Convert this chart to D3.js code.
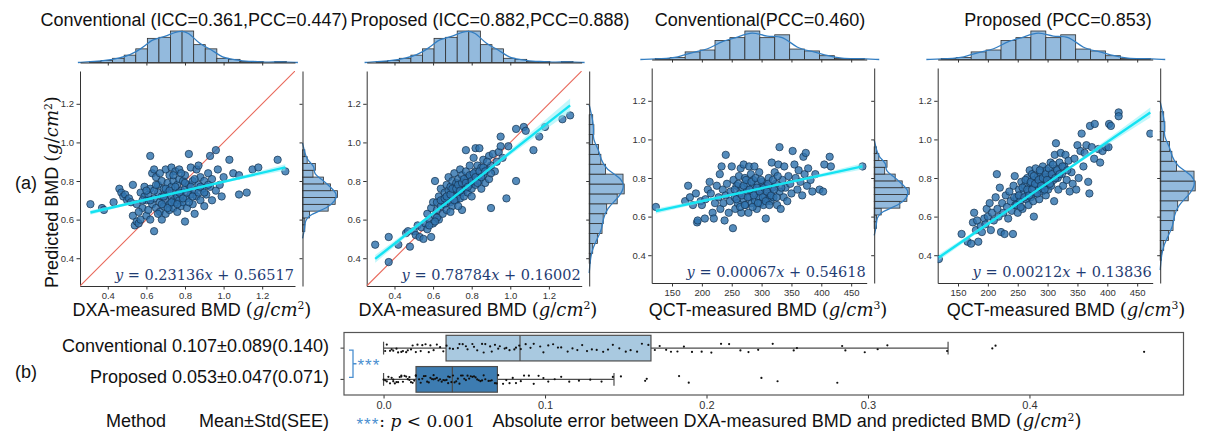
<!DOCTYPE html>
<html>
<head>
<meta charset="utf-8">
<script src="https://cdn.jsdelivr.net/npm/d3@7"></script>
<style>
body { margin: 0; background: #fff; }
svg { display: block; }
</style>
</head>
<body>
<div id="chart"></div>
<script>
// ---- data ----
var titles = ["Conventional (ICC=0.361,PCC=0.447)", "Proposed (ICC=0.882,PCC=0.888)", "Conventional(PCC=0.460)", "Proposed (PCC=0.853)"];
var slopes = [0.23136, 0.78784, 0.00067, 0.00212];
var intercepts = [0.56517, 0.16002, 0.54618, 0.13836];
// confidence band half-widths at [min x, middle, max x]
var bandHalf = [[0.012, 0.004, 0.016], [0.02, 0.006, 0.035], [0.014, 0.004, 0.016], [0.016, 0.005, 0.026]];

var yTicks = [0.4, 0.6, 0.8, 1.0, 1.2];
var dxaTicks = [0.4, 0.6, 0.8, 1.0, 1.2];
var qctTicks = [150, 200, 250, 300, 350, 400, 450];
var bmdDomain = [0.256, 1.37];
var qctDomain = [116, 476];

// DXA vs conventional prediction
var dxaConv = [
[0.31,0.68],[0.37,0.66],[0.38,0.65],[0.43,0.69],[0.46,0.76],[0.47,0.74],[0.48,0.72],[0.49,0.73],[0.50,0.70],[0.51,0.71],
[0.52,0.69],[0.53,0.78],[0.53,0.62],[0.54,0.57],[0.55,0.59],[0.55,0.68],[0.56,0.58],[0.57,0.60],[0.57,0.74],[0.58,0.66],
[0.59,0.72],[0.59,0.77],[0.60,0.62],[0.60,0.70],[0.61,0.65],[0.61,0.73],[0.62,0.93],[0.62,0.60],[0.62,0.76],[0.63,0.68],
[0.63,0.84],[0.64,0.86],[0.64,0.54],[0.64,0.71],[0.65,0.82],[0.65,0.66],[0.66,0.74],[0.66,0.78],[0.67,0.69],[0.67,0.64],
[0.68,0.60],[0.68,0.72],[0.68,0.80],[0.69,0.76],[0.69,0.67],[0.70,0.86],[0.70,0.70],[0.70,0.63],[0.71,0.74],[0.71,0.79],
[0.72,0.68],[0.72,0.83],[0.72,0.65],[0.73,0.87],[0.73,0.72],[0.73,0.77],[0.74,0.70],[0.74,0.80],[0.74,0.66],[0.75,0.74],
[0.75,0.85],[0.75,0.69],[0.76,0.78],[0.76,0.72],[0.76,0.64],[0.77,0.81],[0.77,0.70],[0.77,0.86],[0.78,0.75],[0.78,0.67],
[0.78,0.73],[0.79,0.80],[0.79,0.69],[0.80,0.76],[0.80,0.59],[0.80,0.83],[0.81,0.71],[0.81,0.66],[0.82,0.78],[0.82,0.94],
[0.83,0.73],[0.83,0.87],[0.84,0.68],[0.84,0.80],[0.85,0.75],[0.85,0.63],[0.86,0.86],[0.86,0.72],[0.87,0.78],[0.87,0.88],
[0.88,0.70],[0.88,0.82],[0.89,0.76],[0.90,0.67],[0.90,0.80],[0.91,0.73],[0.92,0.84],[0.93,0.93],[0.93,0.77],[0.94,0.70],
[0.94,0.81],[0.96,0.96],[0.96,0.75],[0.97,0.86],[0.98,0.78],[0.99,0.72],[1.00,0.82],[1.03,0.91],[1.05,0.84],[1.08,0.83],
[1.08,0.73],[1.12,0.74],[1.15,0.86],[1.18,0.87],[1.28,0.91],[1.32,0.85],
[0.62,0.70],[0.64,0.75],[0.65,0.78],[0.66,0.63],[0.67,0.84],[0.69,0.72],[0.70,0.76],[0.71,0.66],[0.72,0.75],[0.73,0.69],
[0.74,0.83],[0.75,0.77],[0.76,0.68],[0.77,0.74],[0.78,0.84],[0.79,0.71],[0.80,0.79],[0.81,0.74],[0.82,0.69],[0.83,0.77],
[0.84,0.72],[0.85,0.81],[0.87,0.74],[0.88,0.77],[0.90,0.74],[0.92,0.78],[0.58,0.70],[0.56,0.64],[0.60,0.75],[0.68,0.68]
];

// DXA vs proposed prediction
var dxaProp = [
[0.30,0.47],[0.37,0.51],[0.37,0.38],[0.42,0.47],[0.46,0.53],[0.47,0.54],[0.48,0.46],[0.50,0.54],[0.51,0.52],[0.52,0.57],
[0.53,0.51],[0.54,0.56],[0.55,0.50],[0.56,0.58],[0.57,0.55],[0.57,0.63],[0.58,0.60],[0.59,0.51],[0.59,0.66],[0.60,0.58],
[0.60,0.69],[0.61,0.80],[0.61,0.62],[0.62,0.69],[0.62,0.65],[0.63,0.60],[0.63,0.72],[0.64,0.67],[0.64,0.76],[0.65,0.63],
[0.65,0.70],[0.66,0.74],[0.66,0.68],[0.67,0.78],[0.67,0.65],[0.68,0.75],[0.68,0.71],[0.68,0.82],[0.69,0.69],[0.69,0.77],
[0.70,0.73],[0.70,0.80],[0.70,0.67],[0.71,0.76],[0.71,0.84],[0.72,0.72],[0.72,0.79],[0.72,0.70],[0.73,0.81],[0.73,0.75],
[0.74,0.86],[0.74,0.71],[0.74,0.78],[0.75,0.65],[0.75,0.74],[0.75,0.83],[0.76,0.79],[0.76,0.72],[0.77,0.96],[0.77,0.85],
[0.77,0.76],[0.78,0.81],[0.78,0.74],[0.79,0.88],[0.79,0.78],[0.80,0.83],[0.80,0.76],[0.81,0.92],[0.81,0.80],[0.82,0.97],
[0.82,0.85],[0.82,0.78],[0.83,0.82],[0.83,0.88],[0.84,0.97],[0.84,0.80],[0.85,0.87],[0.85,0.76],[0.86,0.91],[0.86,0.83],
[0.87,0.79],[0.88,0.86],[0.89,0.81],[0.89,0.93],[0.90,0.66],[0.90,0.88],[0.91,0.94],[0.92,0.85],[0.93,0.90],[0.94,0.95],
[0.95,1.03],[0.95,0.98],[0.96,0.92],[0.98,0.71],[0.99,0.98],[1.03,0.80],[1.03,1.07],[1.07,1.08],[1.08,1.06],[1.12,0.96],
[1.15,1.03],[1.18,1.08],[1.27,1.12],[1.31,1.14],
[0.62,0.61],[0.64,0.70],[0.66,0.71],[0.67,0.72],[0.69,0.73],[0.70,0.76],[0.71,0.70],[0.72,0.76],[0.73,0.78],[0.74,0.75],
[0.75,0.79],[0.76,0.81],[0.77,0.79],[0.78,0.77],[0.79,0.83],[0.80,0.80],[0.81,0.84],[0.82,0.82],[0.83,0.79],[0.84,0.85],
[0.85,0.82],[0.86,0.87],[0.87,0.85],[0.88,0.90],[0.90,0.84],[0.58,0.57],[0.61,0.59],[0.69,0.64],[0.73,0.67],[0.80,0.72]
];

// QCT vs conventional prediction
var qctConv = [
[123,0.65],[172,0.68],[177,0.76],[180,0.70],[185,0.66],[190,0.72],[192,0.57],[193,0.58],[198,0.68],[200,0.66],
[205,0.59],[206,0.69],[210,0.74],[213,0.78],[215,0.72],[218,0.62],[220,0.59],[222,0.67],[225,0.76],[228,0.70],
[230,0.82],[231,0.64],[233,0.86],[235,0.74],[236,0.67],[238,0.58],[240,0.92],[240,0.71],[242,0.77],[245,0.62],
[247,0.68],[248,0.73],[250,0.86],[252,0.54],[253,0.79],[255,0.70],[256,0.64],[258,0.76],[260,0.67],[262,0.81],
[263,0.72],[265,0.85],[266,0.62],[268,0.75],[270,0.87],[270,0.69],[272,0.80],[273,0.66],[275,0.73],[276,0.77],
[278,0.62],[279,0.86],[280,0.70],[282,0.82],[283,0.67],[285,0.75],[286,0.79],[288,0.86],[289,0.68],[290,0.72],
[292,0.64],[293,0.77],[295,0.70],[296,0.83],[298,0.67],[300,0.74],[301,0.78],[303,0.66],[305,0.71],[307,0.59],
[308,0.76],[310,0.69],[312,0.80],[314,0.72],[315,0.68],[317,0.88],[318,0.75],[320,0.70],[322,0.83],[324,0.77],
[326,0.66],[328,0.87],[330,0.96],[330,0.73],[332,0.64],[335,0.79],[337,0.70],[338,0.86],[340,0.75],[343,0.68],
[345,0.81],[348,0.77],[350,0.72],[352,0.94],[355,0.87],[357,0.80],[360,0.74],[362,0.84],[365,0.78],[368,0.71],
[370,0.91],[372,0.82],[374,0.93],[376,0.76],[378,0.85],[382,0.79],[385,0.73],[390,0.82],[397,0.74],[403,0.73],
[405,0.87],[414,0.91],[416,0.86],[469,0.86],
[255,0.74],[258,0.69],[261,0.77],[264,0.65],[267,0.71],[270,0.76],[272,0.66],[274,0.79],[277,0.70],[280,0.74],
[283,0.78],[285,0.65],[287,0.71],[290,0.80],[292,0.75],[294,0.67],[297,0.73],[299,0.79],[302,0.70],[304,0.75],
[307,0.68],[309,0.73],[311,0.77],[313,0.66],[316,0.71],[319,0.79],[321,0.74],[325,0.70],[327,0.81],[333,0.75]
];

// QCT vs proposed prediction
var qctProp = [
[118,0.38],[156,0.51],[166,0.47],[172,0.46],[175,0.57],[177,0.62],[180,0.53],[182,0.58],[184,0.47],[188,0.55],
[190,0.52],[194,0.59],[196,0.56],[198,0.64],[200,0.60],[203,0.67],[205,0.53],[207,0.62],[210,0.58],[213,0.70],
[215,0.82],[216,0.64],[218,0.60],[220,0.75],[222,0.52],[224,0.67],[226,0.62],[228,0.51],[230,0.71],[232,0.65],
[234,0.59],[236,0.73],[238,0.68],[240,0.63],[242,0.51],[243,0.76],[245,0.81],[246,0.66],[248,0.70],[250,0.62],
[252,0.74],[254,0.68],[256,0.78],[258,0.64],[260,0.72],[262,0.76],[264,0.69],[266,0.80],[267,0.73],[268,0.66],
[270,0.84],[271,0.77],[272,0.70],[274,0.82],[275,0.75],[276,0.68],[277,0.60],[278,0.79],[280,0.85],[281,0.72],
[282,0.77],[284,0.81],[285,0.74],[286,0.69],[288,0.83],[290,0.78],[291,0.73],[292,0.86],[294,0.76],[295,0.80],
[297,0.71],[298,0.84],[300,0.78],[301,0.74],[303,0.81],[305,0.88],[306,0.76],[308,0.83],[310,0.79],[311,0.68],
[312,0.92],[314,0.98],[315,0.85],[317,0.80],[318,0.74],[320,0.88],[322,0.93],[324,0.82],[326,0.76],[328,0.86],
[330,0.92],[332,0.79],[335,0.89],[337,0.73],[340,0.83],[342,0.77],[345,0.90],[348,0.74],[350,0.97],[352,0.80],
[355,0.94],[357,1.03],[360,0.86],[362,0.93],[365,0.97],[368,0.78],[370,0.72],[371,1.07],[374,0.96],[378,0.90],
[379,1.08],[385,0.95],[388,0.88],[392,0.94],[398,0.96],[402,0.96],[403,1.08],[406,1.07],[419,1.14],[419,1.12],[472,1.03],
[244,0.70],[248,0.66],[252,0.71],[255,0.65],[258,0.75],[261,0.70],[263,0.79],[266,0.74],[269,0.71],[272,0.78],
[274,0.74],[277,0.81],[279,0.77],[283,0.72],[285,0.79],[287,0.84],[289,0.76],[292,0.80],[295,0.74],[297,0.82],
[299,0.79],[302,0.85],[304,0.77],[307,0.82],[309,0.87],[313,0.80],[316,0.84],[320,0.82],[325,0.86],[333,0.84]
];

// marginal histograms (bin start, bin width, counts)
var dxaBinStart = 0.305, dxaBinWidth = 0.06;
var dxaHistCounts = [1, 2, 4, 7, 13, 23, 24, 30, 30, 17, 13, 4, 3, 1, 1, 0, 1];
var qctBinStart = 122, qctBinWidth = 25;
var qctHistCounts = [1, 2, 8, 10, 20, 23, 30, 23, 26, 11, 9, 4, 1, 1];
var convBinStart = 0.538, convBinWidth = 0.0353;
var convHistCounts = [2, 2, 6, 22, 28, 30, 24, 18, 9, 11, 4, 2];
var propBinStart = 0.374, propBinWidth = 0.0513;
var propHistCounts = [1, 3, 7, 11, 12, 15, 24, 30, 29, 14, 10, 8, 3, 4, 3];

// box plot of absolute errors
var methods = ["Conventional", "Proposed"];
var methodStats = ["0.107\u00b10.089(0.140)", "0.053\u00b10.047(0.071)"];
var boxQ1 = [0.0387, 0.0201];
var boxMedian = [0.0845, 0.0426];
var boxQ3 = [0.1656, 0.0705];
var whiskerLow = [0.0, 0.0];
var whiskerHigh = [0.3496, 0.1427];
var errTicks = [0.0, 0.1, 0.2, 0.3, 0.4];
var convErrors = [0.001,0.002,0.004,0.005,0.006,0.008,0.009,0.011,0.012,0.014,0.015,0.017,0.018,0.020,0.021,0.023,0.024,0.026,0.028,0.029,
0.031,0.033,0.035,0.037,0.039,0.041,0.043,0.046,0.047,0.049,0.051,0.052,0.055,0.056,0.058,0.061,0.062,0.063,0.066,0.067,
0.069,0.071,0.072,0.075,0.076,0.078,0.081,0.082,0.084,0.085,0.088,0.091,0.093,0.097,0.099,0.102,0.105,0.108,0.110,0.114,
0.117,0.120,0.123,0.126,0.129,0.132,0.136,0.139,0.142,0.146,0.150,0.153,0.157,0.160,0.164,0.168,0.171,0.175,0.178,0.182,
0.186,0.191,0.197,0.203,0.209,0.214,0.221,0.226,0.232,0.241,0.254,0.256,0.284,0.286,0.298,0.306,0.312,0.349,0.377,0.379,0.471];
var propErrors = [0.000,0.001,0.002,0.003,0.004,0.005,0.006,0.006,0.007,0.008,0.009,0.010,0.011,0.011,0.012,0.013,0.014,0.015,0.016,0.016,
0.017,0.018,0.019,0.020,0.020,0.022,0.023,0.024,0.025,0.026,0.027,0.028,0.029,0.030,0.031,0.031,0.032,0.033,0.034,0.035,
0.036,0.037,0.038,0.039,0.040,0.040,0.041,0.042,0.043,0.044,0.045,0.046,0.047,0.048,0.049,0.050,0.051,0.052,0.053,0.054,
0.055,0.056,0.057,0.058,0.059,0.060,0.061,0.062,0.063,0.065,0.066,0.067,0.069,0.070,0.071,0.074,0.076,0.078,0.080,0.082,
0.085,0.087,0.090,0.093,0.096,0.099,0.102,0.106,0.110,0.115,0.121,0.128,0.135,0.142,0.147,0.162,0.163,0.183,0.189,0.234,0.244,0.281];

// ---- drawing ----
var svgWidth = 1207, svgHeight = 447;
var sans = '"Liberation Sans", Arial, sans-serif';
var serif = '"DejaVu Serif", serif';
var tickColor = "#333";

var svg = d3.select("#chart").append("svg")
    .attr("width", svgWidth)
    .attr("height", svgHeight)
    .style("background", "#fff");

var hists = {
    dxa: {start: dxaBinStart, width: dxaBinWidth, counts: dxaHistCounts},
    qct: {start: qctBinStart, width: qctBinWidth, counts: qctHistCounts},
    conv: {start: convBinStart, width: convBinWidth, counts: convHistCounts},
    prop: {start: propBinStart, width: propBinWidth, counts: propHistCounts}
};

var panels = [
    {left: 80, top: 71, pts: dxaConv, xDomain: bmdDomain, xTicks: dxaTicks, topH: "dxa", rightH: "conv", titleX: 194, labelX: 192, pre: "DXA-measured BMD ", power: "2", identity: true},
    {left: 366.7, top: 71, pts: dxaProp, xDomain: bmdDomain, xTicks: dxaTicks, topH: "dxa", rightH: "prop", titleX: 490, labelX: 478, pre: "DXA-measured BMD ", power: "2", identity: true},
    {left: 651.7, top: 68, pts: qctConv, xDomain: qctDomain, xTicks: qctTicks, topH: "qct", rightH: "conv", titleX: 760, labelX: 768, pre: "QCT-measured BMD ", power: "3", identity: false},
    {left: 937.7, top: 68, pts: qctProp, xDomain: qctDomain, xTicks: qctTicks, topH: "qct", rightH: "prop", titleX: 1058, labelX: 1066, pre: "QCT-measured BMD ", power: "3", identity: false}
];
var plotSize = 215;

function styleAxis(g, size) {
    g.attr("font-family", sans).attr("font-size", size);
    g.select(".domain").attr("stroke", tickColor).attr("stroke-width", 1);
    g.selectAll(".tick line").attr("stroke", tickColor);
    g.selectAll(".tick text").attr("fill", tickColor);
}

// "(g/cm²)" style unit label after a sans-serif prefix
function unitLabel(t, pre, power, size) {
    t.append("tspan").style("font-family", sans).text(pre);
    t.append("tspan").style("font-family", serif).text("(");
    t.append("tspan").style("font-family", serif).style("font-style", "italic").text("g");
    t.append("tspan").style("font-family", serif).text("/");
    t.append("tspan").style("font-family", serif).style("font-style", "italic").text("cm");
    t.append("tspan").style("font-family", serif).attr("font-size", size * 0.6).attr("dy", -size * 0.36).text(power);
    t.append("tspan").style("font-family", serif).attr("dy", size * 0.36).text(")");
}

// stable jitter offset in [-0.5, 0.5] from a point's index
function jitter(j) {
    var s = Math.sin(j * 127.1 + 311.7) * 43758.5453;
    return s - Math.floor(s) - 0.5;
}

panels.forEach(function(p, i) {
    var x = d3.scaleLinear().domain(p.xDomain).range([p.left, p.left + plotSize]);
    var y = d3.scaleLinear().domain(bmdDomain).range([p.top + plotSize, p.top]);
    var g = svg.append("g");

    // title
    g.append("text")
        .attr("x", p.titleX).attr("y", 25.5)
        .attr("text-anchor", "middle")
        .style("font-family", sans).style("font-size", "18px").attr("fill", "#111")
        .text(titles[i]);

    // top marginal histogram
    var th = hists[p.topH];
    var tBase = p.top - 8.5;
    var hy = d3.scaleLinear().domain([0, 30]).range([tBase, 31]);
    g.append("g").selectAll("rect")
        .data(th.counts)
        .enter()
        .append("rect")
        .attr("x", (d, k) => x(th.start + k * th.width))
        .attr("width", (d, k) => x(th.start + (k + 1) * th.width) - x(th.start + k * th.width))
        .attr("y", d => hy(d))
        .attr("height", d => tBase - hy(d))
        .attr("fill", "#93badd")
        .attr("stroke", "#2e2e2e")
        .attr("stroke-width", 0.8);
    var tKde = [[th.start - th.width, 0]].concat(th.counts.map((d, k) => [th.start + (k + 0.5) * th.width, d]), [[th.start + (th.counts.length + 1) * th.width, 0]]);
    g.append("path")
        .datum(tKde)
        .attr("fill", "none").attr("stroke", "#337ec2").attr("stroke-width", 1.3)
        .attr("d", d3.line().x(d => x(d[0])).y(d => hy(d[1])).curve(d3.curveBasis));
    g.append("g")
        .attr("transform", `translate(0, ${tBase})`)
        .call(d3.axisBottom(x).tickValues(p.xTicks).tickFormat("").tickSize(3).tickSizeOuter(0))
        .call(a => styleAxis(a, 9.5));

    // right marginal histogram
    var rh = hists[p.rightH];
    var rBase = p.left + plotSize + 7.5;
    var hx = d3.scaleLinear().domain([0, 30]).range([rBase, rBase + 35]);
    g.append("g").selectAll("rect")
        .data(rh.counts)
        .enter()
        .append("rect")
        .attr("x", rBase)
        .attr("width", d => hx(d) - rBase)
        .attr("y", (d, k) => y(rh.start + (k + 1) * rh.width))
        .attr("height", (d, k) => y(rh.start + k * rh.width) - y(rh.start + (k + 1) * rh.width))
        .attr("fill", "#93badd")
        .attr("stroke", "#2e2e2e")
        .attr("stroke-width", 0.8);
    var rKde = [[rh.start - rh.width, 0]].concat(rh.counts.map((d, k) => [rh.start + (k + 0.5) * rh.width, d]), [[rh.start + (rh.counts.length + 1) * rh.width, 0]]);
    g.append("path")
        .datum(rKde)
        .attr("fill", "none").attr("stroke", "#337ec2").attr("stroke-width", 1.3)
        .attr("d", d3.line().x(d => hx(d[1])).y(d => y(d[0])).curve(d3.curveBasis));
    g.append("g")
        .attr("transform", `translate(${rBase}, 0)`)
        .call(d3.axisLeft(y).tickValues(yTicks).tickFormat("").tickSize(3).tickSizeOuter(0))
        .call(a => styleAxis(a, 9.5));

    // main axes
    g.append("g")
        .attr("transform", `translate(0, ${p.top + plotSize})`)
        .call(d3.axisBottom(x).tickValues(p.xTicks).tickSize(3.5).tickPadding(2.5).tickSizeOuter(0)
            .tickFormat(p.identity ? d3.format(".1f") : d3.format("d")))
        .call(a => styleAxis(a, 9.5));
    g.append("g")
        .attr("transform", `translate(${p.left}, 0)`)
        .call(d3.axisLeft(y).tickValues(yTicks).tickSize(3.5).tickPadding(2.5).tickSizeOuter(0).tickFormat(d3.format(".1f")))
        .call(a => styleAxis(a, 9.5));

    var clipId = "plotclip" + i;
    svg.append("clipPath").attr("id", clipId)
        .append("rect").attr("x", p.left).attr("y", p.top).attr("width", plotSize).attr("height", plotSize);
    var plot = g.append("g").attr("clip-path", `url(#${clipId})`);

    // identity line
    if (p.identity) {
        plot.append("line")
            .attr("x1", x(bmdDomain[0])).attr("y1", y(bmdDomain[0]))
            .attr("x2", x(bmdDomain[1])).attr("y2", y(bmdDomain[1]))
            .attr("stroke", "#e8675a").attr("stroke-width", 1.1);
    }

    // points
    plot.append("g").selectAll("circle")
        .data(p.pts)
        .enter()
        .append("circle")
        .attr("cx", d => x(d[0]))
        .attr("cy", d => y(d[1]))
        .attr("r", 3.7)
        .attr("fill", "#2f73ad")
        .attr("fill-opacity", 0.82)
        .attr("stroke", "#16324f")
        .attr("stroke-width", 0.7);

    // regression line and band
    var xmin = d3.min(p.pts, d => d[0]), xmax = d3.max(p.pts, d => d[0]);
    var fit = v => slopes[i] * v + intercepts[i];
    var band = [[xmin, bandHalf[i][0]], [(xmin + xmax) / 2, bandHalf[i][1]], [xmax, bandHalf[i][2]]];
    plot.append("path")
        .datum(band)
        .attr("fill", "#8ef0f8").attr("fill-opacity", 0.55)
        .attr("d", d3.area().x(d => x(d[0])).y0(d => y(fit(d[0]) - d[1])).y1(d => y(fit(d[0]) + d[1])).curve(d3.curveNatural));
    plot.append("line")
        .attr("x1", x(xmin)).attr("y1", y(fit(xmin)))
        .attr("x2", x(xmax)).attr("y2", y(fit(xmax)))
        .attr("stroke", "#14e3f2").attr("stroke-width", 2.4);

    // equation
    var eq = g.append("text")
        .attr("x", p.left + plotSize - 1).attr("y", p.top + plotSize - 6.5)
        .attr("text-anchor", "end")
        .style("font-family", serif).style("font-size", "14.5px").attr("fill", "#1f3c73");
    eq.append("tspan").style("font-style", "italic").text("y");
    eq.append("tspan").text(" = " + slopes[i].toFixed(5));
    eq.append("tspan").style("font-style", "italic").text("x");
    eq.append("tspan").text(" + " + intercepts[i].toFixed(5));

    // x label
    var xl = g.append("text")
        .attr("x", p.labelX).attr("y", 315.5)
        .attr("text-anchor", "middle")
        .style("font-size", "18px").attr("fill", "#111");
    unitLabel(xl, p.pre, p.power, 18);
});

// y label and panel tag
var yl = svg.append("text")
    .attr("transform", "translate(58, 192) rotate(-90)")
    .attr("text-anchor", "middle")
    .style("font-size", "18px").attr("fill", "#111");
unitLabel(yl, "Predicted BMD ", "2", 18);

svg.append("text")
    .attr("x", 15).attr("y", 189)
    .style("font-family", sans).style("font-size", "18px").attr("fill", "#111")
    .text("(a)");

// ---- (b) box plot ----
var ex = d3.scaleLinear().domain([-0.0245, 0.4954]).range([344, 1183.5]);
var ey = d3.scaleBand().domain(methods).range([332.5, 395]);
var rowC = m => ey(m) + ey.bandwidth() / 2;
var boxH = ey.bandwidth() * 0.82;
var boxFill = ["#a9c9e0", "#3d7cb1"];

var bx = svg.append("g");
bx.append("g")
    .attr("transform", "translate(0, 395)")
    .call(d3.axisBottom(ex).tickValues(errTicks).tickFormat(d3.format(".1f")).tickSize(3.5).tickPadding(3).tickSizeOuter(0))
    .call(a => styleAxis(a, 11))
    .call(a => a.select(".domain").remove());
bx.append("g")
    .attr("transform", "translate(344, 0)")
    .call(d3.axisLeft(ey).tickFormat("").tickSize(3.5).tickSizeOuter(0))
    .call(a => styleAxis(a, 11))
    .call(a => a.select(".domain").remove());

methods.forEach(function(m, k) {
    var c = rowC(m);
    // whiskers
    bx.append("line").attr("x1", ex(whiskerLow[k])).attr("x2", ex(boxQ1[k])).attr("y1", c).attr("y2", c)
        .attr("stroke", "#4d4d4d").attr("stroke-width", 1.2);
    bx.append("line").attr("x1", ex(boxQ3[k])).attr("x2", ex(whiskerHigh[k])).attr("y1", c).attr("y2", c)
        .attr("stroke", "#4d4d4d").attr("stroke-width", 1.2);
    [whiskerLow[k], whiskerHigh[k]].forEach(function(w) {
        bx.append("line").attr("x1", ex(w)).attr("x2", ex(w)).attr("y1", c - boxH / 4).attr("y2", c + boxH / 4)
            .attr("stroke", "#4d4d4d").attr("stroke-width", 1.2);
    });
    bx.append("rect")
        .attr("x", ex(boxQ1[k])).attr("width", ex(boxQ3[k]) - ex(boxQ1[k]))
        .attr("y", c - boxH / 2).attr("height", boxH)
        .attr("fill", boxFill[k]).attr("stroke", "#4d4d4d").attr("stroke-width", 1.2);
    bx.append("line").attr("x1", ex(boxMedian[k])).attr("x2", ex(boxMedian[k])).attr("y1", c - boxH / 2).attr("y2", c + boxH / 2)
        .attr("stroke", "#4d4d4d").attr("stroke-width", 1.2);

    // strip dots
    var errs = k === 0 ? convErrors : propErrors;
    bx.append("g").selectAll("circle")
        .data(errs)
        .enter()
        .append("circle")
        .attr("cx", d => ex(d))
        .attr("cy", (d, j) => c + jitter(j + k * 200) * 9)
        .attr("r", 1.1)
        .attr("fill", "#111");

    // left labels
    svg.append("text")
        .attr("x", 329).attr("y", c + 3.8)
        .attr("text-anchor", "end")
        .style("font-family", sans).style("font-size", "18px").attr("fill", "#111")
        .text(m + " " + methodStats[k]);
});

bx.append("rect")
    .attr("x", 344).attr("y", 332.5)
    .attr("width", 1183.5 - 344).attr("height", 395 - 332.5)
    .attr("fill", "none").attr("stroke", "#555").attr("stroke-width", 1.2);

// significance bracket
var c0 = rowC(methods[0]) + 2, c1 = rowC(methods[1]) - 2;
bx.append("path")
    .attr("d", `M349,${c0}H353V${c1}H349M353,${(c0 + c1) / 2}H356.5`)
    .attr("fill", "none").attr("stroke", "#4a8fd0").attr("stroke-width", 1.3);
bx.append("text")
    .attr("x", 357.5).attr("y", (c0 + c1) / 2 + 7)
    .style("font-family", sans).style("font-size", "17px").style("letter-spacing", "1px").attr("fill", "#4a8fd0")
    .text("***");

svg.append("text")
    .attr("x", 15).attr("y", 378)
    .style("font-family", sans).style("font-size", "18px").attr("fill", "#111")
    .text("(b)");

// bottom row
svg.append("text").attr("x", 136).attr("y", 427).attr("text-anchor", "middle")
    .style("font-family", sans).style("font-size", "18px").attr("fill", "#111").text("Method");
svg.append("text").attr("x", 329).attr("y", 427).attr("text-anchor", "end")
    .style("font-family", sans).style("font-size", "18px").attr("fill", "#111").text("Mean\u00b1Std(SEE)");

var sig = svg.append("text").attr("x", 356.5).attr("y", 430)
    .style("font-size", "17px").attr("fill", "#111");
sig.append("tspan").style("font-family", sans).style("letter-spacing", "1px").attr("fill", "#4a8fd0").text("***");
sig.append("tspan").style("font-family", serif).attr("dy", -3).text(": ");
sig.append("tspan").style("font-family", serif).style("font-style", "italic").text("p");
sig.append("tspan").style("font-family", serif).text(" < 0.001");

var al = svg.append("text").attr("x", 492.5).attr("y", 427)
    .style("font-size", "18px").attr("fill", "#111");
unitLabel(al, "Absolute error between DXA-measured BMD and predicted BMD ", "2", 18);
</script>
</body>
</html>
